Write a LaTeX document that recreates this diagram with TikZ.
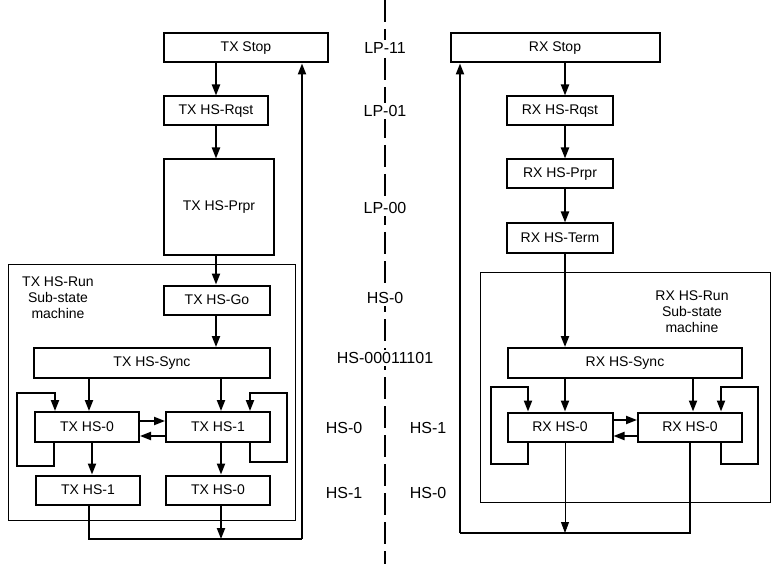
\documentclass[tikz,border=0pt]{standalone}
\usepackage{fontspec}
\setmainfont{Liberation Sans}
\usetikzlibrary{arrows.meta}
\begin{document}
\begin{tikzpicture}[x=1pt,y=-1pt,
  st/.style={draw,line width=2pt,inner sep=0pt,font=\fontsize{14}{16}\selectfont},
  ar/.style={line width=2pt,-{Triangle[length=11pt,width=8pt]}},
  ln/.style={line width=2pt},
  lab/.style={font=\fontsize{16}{18}\selectfont,fill=white,inner sep=2pt}]
\useasboundingbox (0,0) rectangle (779,564);
% outer frames
\draw[line width=0.8pt] (8,264) rectangle (295,520);
\draw[line width=0.8pt] (480,272) rectangle (770,502);
\draw[line width=1.2pt,dash pattern=on 22pt off 7pt] (385,0) -- (385,564);
% TX
\node[st,minimum width=164pt,minimum height=29pt] (ts) at (246,48) {TX Stop};
\node[st,minimum width=104pt,minimum height=29pt] (tr) at (216,111) {TX HS-Rqst};
\node[st,minimum width=110pt,minimum height=95pt] (tp) at (219,207) {TX HS-Prpr};
\node[st,minimum width=106pt,minimum height=29pt] (tg) at (217,300) {TX HS-Go};
\node[st,minimum width=236pt,minimum height=30pt] (tsy) at (152,363) {TX HS-Sync};
\node[st,minimum width=104pt,minimum height=30pt] (t0) at (87,427) {TX HS-0};
\node[st,minimum width=104pt,minimum height=30pt] (t1) at (218,427) {TX HS-1};
\node[st,minimum width=104pt,minimum height=29pt] (tb1) at (88,490) {TX HS-1};
\node[st,minimum width=104pt,minimum height=29pt] (tb0) at (218,490) {TX HS-0};
\node[align=center,font=\fontsize{14}{16}\selectfont,inner sep=0pt] (tlab) at (58,298) {TX HS-Run\\Sub-state\\machine};
\draw[ar] (ts.south -| 216,0) -- (tr.north -| 216,0);
\draw[ar] (tr.south -| 216,0) -- (tp.north -| 216,0);
\draw[ar] (tp.south -| 216,0) -- (tg.north -| 216,0);
\draw[ar] (tg.south -| 216,0) -- (tsy.north -| 216,0);
\draw[ar] (tsy.south -| 89,0) -- (t0.north -| 89,0);
\draw[ar] (tsy.south -| 221,0) -- (t1.north -| 221,0);
\draw[ar] (t0.south -| 92,0) -- (tb1.north -| 92,0);
\draw[ar] (t1.south -| 221,0) -- (tb0.north -| 221,0);
\draw[ar] (t0.east |- 0,421) -- (t1.west |- 0,421);
\draw[ar] (t1.west |- 0,436) -- (t0.east |- 0,436);
\draw[ar] (t0.south -| 54,0) -- (54,466) -- (17,466) -- (17,393) -- (55,393) -- (t0.north -| 55,0);
\draw[ar] (t1.south -| 250,0) -- (250,462) -- (287,462) -- (287,393) -- (250,393) -- (t1.north -| 250,0);
\coordinate (tj) at (221,539);
\draw[ln] (tb1.south -| 89,0) -- (89,539) -- (302,539);
\draw[ar] (tb0.south -| 221,0) -- (tj);
\draw[ar] (302,539) -- (ts.south -| 302,0);
% labels
\node[lab] (l1) at (385,48) {LP-11};
\node[lab] (l2) at (385,111) {LP-01};
\node[lab] (l3) at (385,208) {LP-00};
\node[lab] (l4) at (385,298) {HS-0};
\node[lab] (l5) at (385,358) {HS-00011101};
\node[lab] (l6) at (344,428) {HS-0};
\node[lab] (l7) at (428,428) {HS-1};
\node[lab] (l8) at (344,493) {HS-1};
\node[lab] (l9) at (428,493) {HS-0};
% RX
\node[st,minimum width=209pt,minimum height=29pt] (rs) at (555,48) {RX Stop};
\node[st,minimum width=106pt,minimum height=29pt] (rr) at (560,111) {RX HS-Rqst};
\node[st,minimum width=106pt,minimum height=29pt] (rp) at (560,174) {RX HS-Prpr};
\node[st,minimum width=106pt,minimum height=29pt] (rt) at (560,238) {RX HS-Term};
\node[st,minimum width=234pt,minimum height=30pt] (rsy) at (625,363) {RX HS-Sync};
\node[st,minimum width=105pt,minimum height=29pt] (r0) at (560,427) {RX HS-0};
\node[st,minimum width=104pt,minimum height=29pt] (r1) at (690,427) {RX HS-0};
\node[align=center,font=\fontsize{14}{16}\selectfont,inner sep=0pt] (rlab) at (692,312) {RX HS-Run\\Sub-state\\machine};
\draw[ar] (rs.south -| 565,0) -- (rr.north -| 565,0);
\draw[ar] (rr.south -| 565,0) -- (rp.north -| 565,0);
\draw[ar] (rp.south -| 565,0) -- (rt.north -| 565,0);
\draw[ar] (rt.south -| 565,0) -- (rsy.north -| 565,0);
\draw[ar] (rsy.south -| 565,0) -- (r0.north -| 565,0);
\draw[ar] (rsy.south -| 693,0) -- (r1.north -| 693,0);
\draw[ar] (r0.east |- 0,420) -- (r1.west |- 0,420);
\draw[ar] (r1.west |- 0,436) -- (r0.east |- 0,436);
\draw[ar] (r0.south -| 528,0) -- (528,464) -- (491,464) -- (491,387) -- (528,387) -- (r0.north -| 528,0);
\draw[ar] (r1.south -| 721,0) -- (721,464) -- (758,464) -- (758,387) -- (721,387) -- (r1.north -| 721,0);
\coordinate (rj) at (565,533);
\draw[line width=0.8pt,-{Triangle[length=11pt,width=8pt]}] (r0.south -| 565,0) -- (rj);
\draw[ln] (r1.south -| 690,0) -- (690,533) -- (460,533);
\draw[ar] (460,533) -- (rs.south -| 460,0);
\end{tikzpicture}
\end{document}
